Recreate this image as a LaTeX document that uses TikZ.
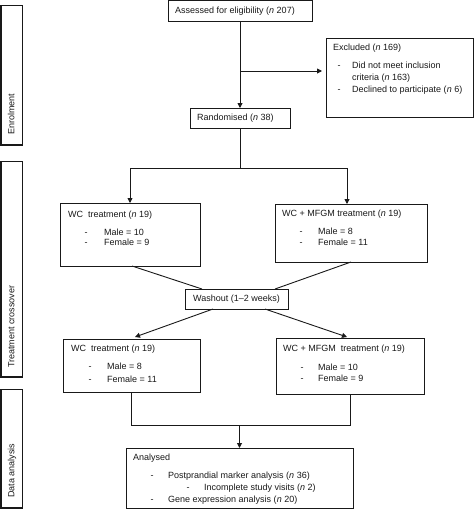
\documentclass[tikz,border=0pt]{standalone}
\usepackage{fontspec}
\setmainfont{Liberation Sans}
\usetikzlibrary{arrows.meta,calc}
\definecolor{ink}{RGB}{25,25,25}
\begin{document}
\begin{tikzpicture}[x=1pt,y=-1pt,
  every node/.style={font=\fontsize{9}{11}\selectfont, text=ink},
  box/.style={draw=ink, line width=0.9pt, rectangle, inner sep=0pt, outer sep=0pt, anchor=north west},
  txt/.style={anchor=base west, inner sep=0pt},
  conn/.style={draw=ink, line width=0.9pt},
  arr/.style={conn, -{Triangle[length=5pt,width=5pt]}},
  side/.style={rotate=90, anchor=base west, inner sep=0pt}]
\useasboundingbox (0,0) rectangle (474,509);
\fill[white] (0,0) rectangle (474,509);

% side boxes
\node[box, minimum width=21.5pt, minimum height=140pt] (enr) at (0.8,5) {};
\node[box, minimum width=21.5pt, minimum height=216pt] (trt) at (0.8,161) {};
\node[box, minimum width=21.5pt, minimum height=119pt] (dat) at (0.8,389) {};
\foreach \b in {enr,trt,dat}{
  \draw[ink, line width=2pt] ([xshift=0.3pt]\b.north west) -- ([xshift=0.3pt]\b.south west) -- (\b.south east);
}
\node[side] (enrt) at (14.3,135) {Enrolment};
\node[side] (trtt) at (14.3,368) {Treatment crossover};
\node[side] (datt) at (14.3,498) {Data analysis};

% main boxes
\node[box, minimum width=144pt, minimum height=20.5pt] (assess) at (168,0.6) {};
\node[box, minimum width=147pt, minimum height=79pt] (excl) at (326,38) {};
\node[box, minimum width=100pt, minimum height=20pt] (rand) at (190,108) {};
\node[box, minimum width=140pt, minimum height=63pt] (wc1) at (60,203) {};
\node[box, minimum width=152pt, minimum height=58pt] (mf1) at (275,204) {};
\node[box, minimum width=103pt, minimum height=20pt] (wash) at (185,289) {};
\node[box, minimum width=137pt, minimum height=53pt] (wc2) at (63,339) {};
\node[box, minimum width=148pt, minimum height=56pt] (mf2) at (276,338) {};
\node[box, minimum width=227pt, minimum height=60pt] (anal) at (126,448) {};

% texts
\node[txt] (t-assess) at (175,13.8) {Assessed for eligibility (\textit{n} 207)};

\node[txt] (t-excl) at (333,50.3) {Excluded (\textit{n} 169)};
\node[txt] (t-ex1d) at (337.5,68.3) {-};
\node[txt] (t-ex1) at (352,68.3) {Did not meet inclusion};
\node[txt] (t-ex1b) at (352,80.3) {criteria (\textit{n} 163)};
\node[txt] (t-ex2d) at (337.5,92.3) {-};
\node[txt] (t-ex2) at (352,92.3) {Declined to participate (\textit{n} 6)};

\node[txt] (t-rand) at (197,120.3) {Randomised (\textit{n} 38)};

\node[txt] (t-wc1) at (68,217.3) {WC\ \ treatment (\textit{n} 19)};
\node[txt] (t-wc1ad) at (84.5,235) {-};
\node[txt] (t-wc1a) at (104,235) {Male = 10};
\node[txt] (t-wc1bd) at (84.5,245.6) {-};
\node[txt] (t-wc1b) at (104,245.6) {Female = 9};

\node[txt] (t-mf1) at (282,216.3) {WC + MFGM treatment (\textit{n} 19)};
\node[txt] (t-mf1ad) at (299.5,234.3) {-};
\node[txt] (t-mf1a) at (318,234.3) {Male = 8};
\node[txt] (t-mf1bd) at (299.5,245.3) {-};
\node[txt] (t-mf1b) at (318,245.3) {Female = 11};

\node[txt] (t-wash) at (193,301.3) {Washout (1–2 weeks)};

\node[txt] (t-wc2) at (71,351.3) {WC\ \ treatment (\textit{n} 19)};
\node[txt] (t-wc2ad) at (88.5,369.3) {-};
\node[txt] (t-wc2a) at (107,369.3) {Male = 8};
\node[txt] (t-wc2bd) at (88.5,382) {-};
\node[txt] (t-wc2b) at (107,382) {Female = 11};

\node[txt] (t-mf2) at (283,351.3) {WC + MFGM\ \ treatment (\textit{n} 19)};
\node[txt] (t-mf2ad) at (300.5,370.3) {-};
\node[txt] (t-mf2a) at (318,370.3) {Male = 10};
\node[txt] (t-mf2bd) at (300.5,381.3) {-};
\node[txt] (t-mf2b) at (318,381.3) {Female = 9};

\node[txt] (t-anal) at (133,460.3) {Analysed};
\node[txt] (t-an1d) at (150.5,478.3) {-};
\node[txt] (t-an1) at (168,478.3) {Postprandial marker analysis (\textit{n} 36)};
\node[txt] (t-an2d) at (186.5,490.8) {-};
\node[txt] (t-an2) at (204,490.8) {Incomplete study visits (\textit{n} 2)};
\node[txt] (t-an3d) at (150.5,502.8) {-};
\node[txt] (t-an3) at (168,502.8) {Gene expression analysis (\textit{n} 20)};

% connectors
\draw[arr] (assess.south) -- (rand.north);
\coordinate (br) at (240,71);
\draw[arr] (br) -- ([xshift=-4pt]br -| excl.west);

\coordinate (split) at (240,168);
\coordinate (sL) at (130,168);
\coordinate (sR) at (347,168);
\draw[conn] (rand.south) -- (split);
\draw[conn] (sL) -- (sR);
\draw[arr] (sL) -- (sL |- wc1.north);
\draw[arr] (sR) -- (sR |- mf1.north);

\coordinate (w1) at (202,289);
\coordinate (w2) at (275,289);
\coordinate (w3) at (213,309);
\coordinate (w4) at (265,309);
\coordinate (e1) at (135,337);
\coordinate (e2) at (347,337);
\draw[conn] ([xshift=2pt]wc1.south) -- (w1);
\draw[conn] (mf1.south) -- (w2);
\draw[arr] (w3) -- (e1);
\draw[arr] (w4) -- (e2);

\coordinate (jL) at (132,425);
\coordinate (jR) at (350,425);
\coordinate (jM) at (239.5,425);
\draw[conn] (wc2.south) -- (wc2.south |- jL) -- (mf2.south |- jR) -- (mf2.south);
\draw[arr] (jM) -- (anal.north);
\end{tikzpicture}
\end{document}
